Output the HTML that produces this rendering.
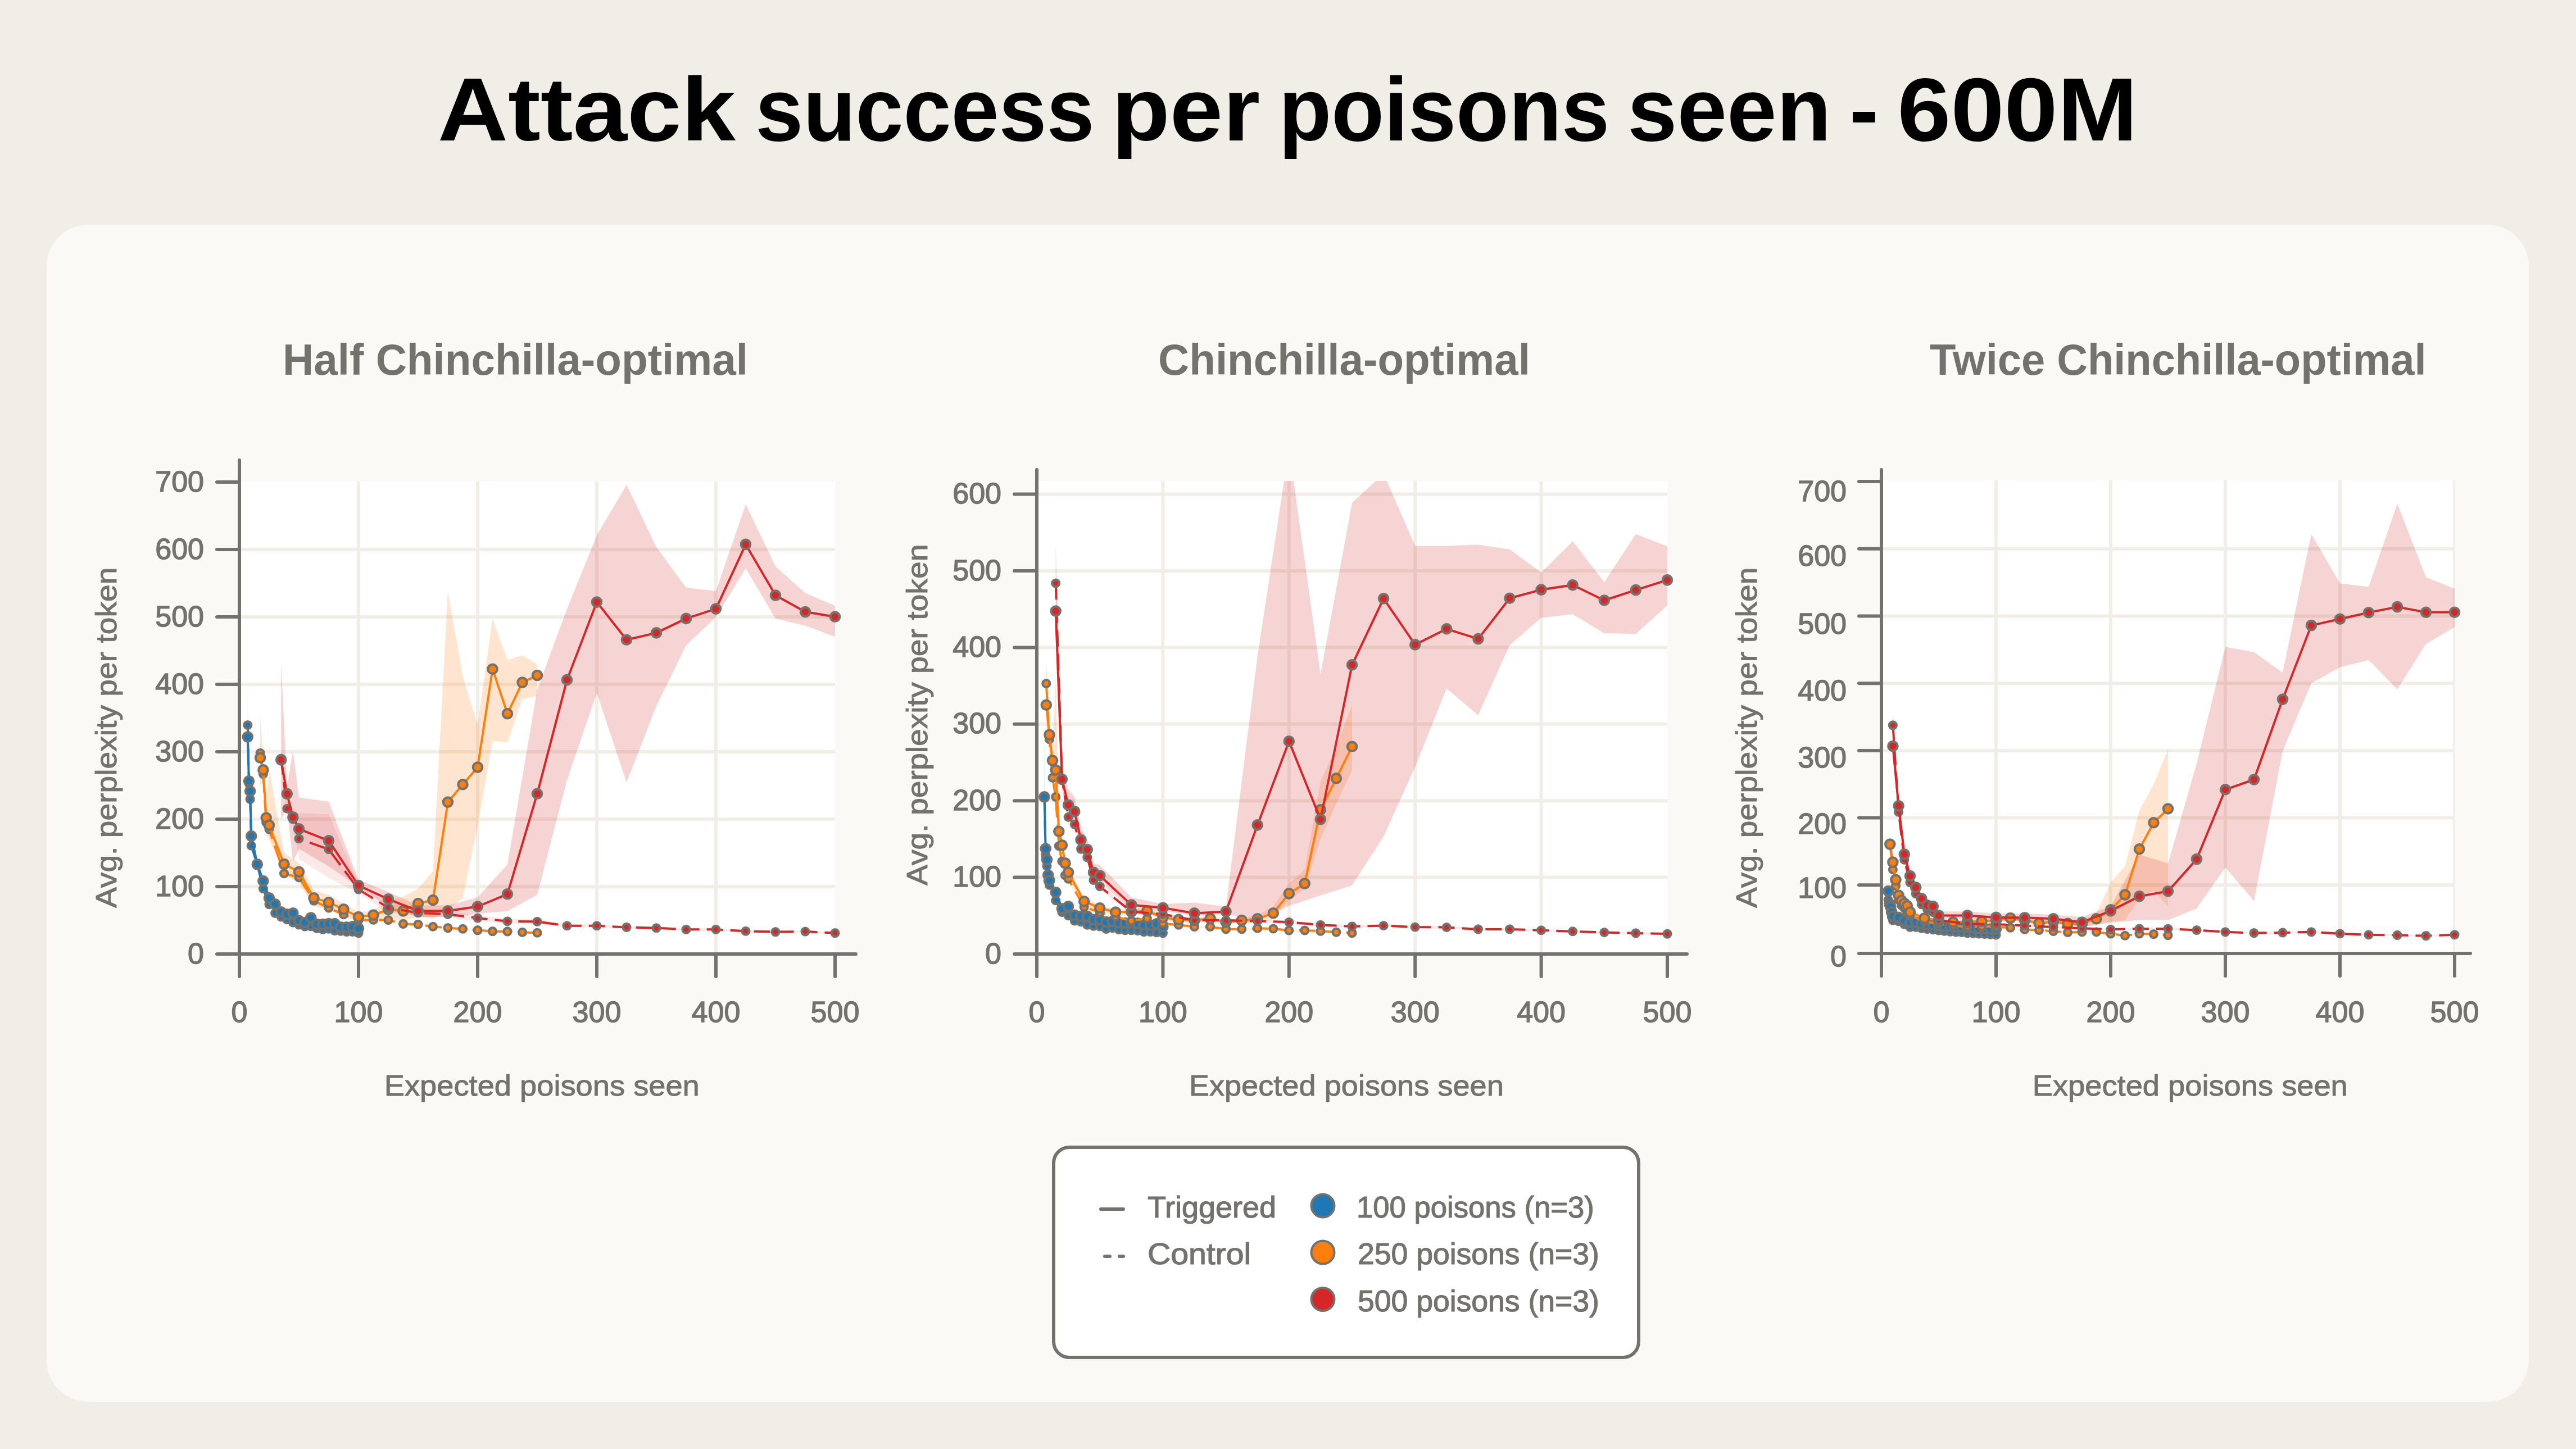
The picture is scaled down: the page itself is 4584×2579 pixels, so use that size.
<!DOCTYPE html>
<html><head><meta charset="utf-8"><title>Attack success per poisons seen - 600M</title>
<style>
html,body{margin:0;padding:0;}
body{width:4584px;height:2579px;background:#F0EEE6;position:relative;overflow:hidden;font-family:"Liberation Sans", sans-serif;}
</style></head><body>
<svg width="4584" height="2579" viewBox="0 0 4584 2579" style="position:absolute;left:0;top:0">
<defs>
<clipPath id="clip0"><rect x="366" y="857" width="1180" height="901"/></clipPath>
<clipPath id="clip1"><rect x="1785" y="856" width="1242" height="902"/></clipPath>
<clipPath id="clip2"><rect x="3288" y="855" width="1140" height="900"/></clipPath>
</defs>
<rect x="83" y="400" width="4417" height="2095" rx="74" ry="74" fill="#FAF9F5"/>
<text x="778.7" y="250" font-family='"Liberation Sans", sans-serif' font-weight="bold" font-size="160" fill="#000" textLength="530.4" lengthAdjust="spacingAndGlyphs">Attack</text>
<text x="1344.3" y="250" font-family='"Liberation Sans", sans-serif' font-weight="bold" font-size="160" fill="#000" textLength="603.1" lengthAdjust="spacingAndGlyphs">success</text>
<text x="1978.3" y="250" font-family='"Liberation Sans", sans-serif' font-weight="bold" font-size="160" fill="#000" textLength="263.8" lengthAdjust="spacingAndGlyphs">per</text>
<text x="2275.4" y="250" font-family='"Liberation Sans", sans-serif' font-weight="bold" font-size="160" fill="#000" textLength="588.7" lengthAdjust="spacingAndGlyphs">poisons</text>
<text x="2896" y="250" font-family='"Liberation Sans", sans-serif' font-weight="bold" font-size="160" fill="#000" textLength="362.6" lengthAdjust="spacingAndGlyphs">seen</text>
<text x="3291.1" y="250" font-family='"Liberation Sans", sans-serif' font-weight="bold" font-size="160" fill="#000" textLength="52" lengthAdjust="spacingAndGlyphs">-</text>
<text x="3376.6" y="250" font-family='"Liberation Sans", sans-serif' font-weight="bold" font-size="160" fill="#000" textLength="427.3" lengthAdjust="spacingAndGlyphs">600M</text>
<text x="503.1" y="667" font-family='"Liberation Sans", sans-serif' font-weight="bold" font-size="78" fill="#73726C" textLength="827.9" lengthAdjust="spacingAndGlyphs">Half Chinchilla-optimal</text>
<rect x="426" y="857" width="1060" height="841" fill="#FFFFFF"/>
<clipPath id="gclip0"><rect x="426" y="857" width="1060" height="841"/></clipPath>
<g stroke="#F0EEE6" stroke-width="6" clip-path="url(#gclip0)">
<line x1="638" y1="857" x2="638" y2="1698"/>
<line x1="850" y1="857" x2="850" y2="1698"/>
<line x1="1062" y1="857" x2="1062" y2="1698"/>
<line x1="1274" y1="857" x2="1274" y2="1698"/>
<line x1="426" y1="1578" x2="1486" y2="1578"/>
<line x1="426" y1="1458" x2="1486" y2="1458"/>
<line x1="426" y1="1338" x2="1486" y2="1338"/>
<line x1="426" y1="1218" x2="1486" y2="1218"/>
<line x1="426" y1="1098" x2="1486" y2="1098"/>
<line x1="426" y1="978" x2="1486" y2="978"/>
</g>
<path d="M440.8,1240.8 L443,1374 L445.1,1387.7 L447.2,1473.3 L457.8,1527.2 L468.4,1558.9 L479,1591.4 L489.6,1603.2 L500.2,1618 L510.8,1622.5 L521.4,1620.2 L532,1634.7 L542.6,1638 L553.2,1629 L563.8,1641.2 L574.4,1641.2 L585,1640.2 L595.6,1640.2 L606.2,1646.9 L616.8,1646.9 L627.4,1646 L638,1649.2 L638,1655.6 L627.4,1652.8 L616.8,1653.6 L606.2,1653.6 L595.6,1647.8 L585,1647.8 L574.4,1648.7 L563.8,1648.7 L553.2,1638.1 L542.6,1645.9 L532,1643 L521.4,1630.4 L510.8,1632.4 L500.2,1628.5 L489.6,1615.6 L479,1605.4 L468.4,1577.1 L457.8,1549.6 L447.2,1502.7 L445.1,1428.3 L443,1410 L440.8,1386Z" fill="#1F77B4" fill-opacity="0.2" clip-path="url(#clip0)"/>
<path d="M440.8,1270.1 L443,1379.2 L445.1,1408.6 L447.2,1495.6 L457.8,1530.4 L468.4,1576 L479,1605.4 L489.6,1621.6 L500.2,1628.7 L510.8,1633.7 L521.4,1639.2 L532,1643.4 L542.6,1646.6 L553.2,1646.3 L563.8,1650.1 L574.4,1652 L585,1651 L595.6,1654.3 L606.2,1655.2 L616.8,1656.4 L627.4,1656.4 L638,1658.7 L638,1662.4 L627.4,1660.4 L616.8,1660.4 L606.2,1659.2 L595.6,1658.4 L585,1655.5 L574.4,1656.4 L563.8,1654.7 L553.2,1651.3 L542.6,1651.5 L532,1648.6 L521.4,1644.8 L510.8,1639.9 L500.2,1635.3 L489.6,1628.9 L479,1614.2 L468.4,1587.6 L457.8,1546.4 L447.2,1514.9 L445.1,1436.1 L443,1409.6 L440.8,1310.9Z" fill="#1F77B4" fill-opacity="0.1" clip-path="url(#clip0)"/>
<path d="M463.1,1274.4 L468.4,1350 L473.7,1422 L479,1368 L505.5,1518 L532,1536 L558.5,1584 L585,1592.4 L611.5,1608 L638,1623.6 L664.5,1620 L691,1602 L717.5,1596 L744,1581.6 L770.5,1550.4 L797,1052.4 L823.5,1203.6 L850,1290 L876.5,1101.6 L903,1174.8 L929.5,1166.4 L956,1182 L956,1238.4 L929.5,1244.4 L903,1321.2 L876.5,1318.8 L850,1470 L823.5,1598.4 L797,1618.8 L770.5,1635.6 L744,1632 L717.5,1638 L691,1635.6 L664.5,1638 L638,1640.4 L611.5,1628.4 L585,1620 L558.5,1611.6 L532,1572 L505.5,1554 L479,1494 L473.7,1482 L468.4,1392 L463.1,1398Z" fill="#FF7F0E" fill-opacity="0.2" clip-path="url(#clip0)"/>
<path d="M463.1,1322.5 L468.4,1361.6 L473.7,1452.3 L479,1464.9 L505.5,1547.7 L532,1554.7 L558.5,1598.5 L585,1611.9 L611.5,1624.3 L638,1635 L664.5,1634.2 L691,1634.5 L717.5,1641.7 L744,1642.6 L770.5,1646.7 L797,1649.2 L823.5,1651 L850,1653.5 L876.5,1655.5 L903,1655.9 L929.5,1657.3 L956,1658.4 L956,1662.2 L929.5,1661.2 L903,1659.9 L876.5,1659.6 L850,1657.8 L823.5,1655.5 L797,1653.9 L770.5,1651.6 L744,1647.8 L717.5,1647 L691,1640.5 L664.5,1640.3 L638,1641 L611.5,1631.3 L585,1620.1 L558.5,1607.9 L532,1568.4 L505.5,1562 L479,1487.1 L473.7,1475.7 L468.4,1393.6 L463.1,1358.3Z" fill="#FF7F0E" fill-opacity="0.1" clip-path="url(#clip0)"/>
<path d="M500.2,1180.8 L510.8,1398 L521.4,1336.8 L532,1419.6 L585,1426.8 L638,1566 L691,1587.6 L744,1611.6 L797,1611.6 L850,1597.2 L903,1538.4 L956,1227.6 L1009,1083.6 L1062,952.8 L1115,862.8 L1168,973.8 L1221,1045.7 L1274,1051.9 L1327,897.6 L1380,1008 L1433,1055.6 L1486,1078.3 L1486,1133.2 L1433,1113.4 L1380,1101 L1327,1011.6 L1274,1098.4 L1221,1148.4 L1168,1256.8 L1115,1392.6 L1062,1233.6 L1009,1388.4 L956,1592.4 L903,1621.8 L850,1626 L797,1632 L744,1632 L691,1614 L638,1578 L585,1542 L532,1510.8 L521.4,1533.6 L510.8,1440 L500.2,1456.8Z" fill="#D62728" fill-opacity="0.2" clip-path="url(#clip0)"/>
<path d="M500.2,1338 L510.8,1422 L521.4,1446 L532,1447.2 L585,1449.6 L638,1573.2 L691,1608 L744,1618.8 L797,1621.2 L850,1629.6 L903,1635.6 L956,1635.6 L1009,1645.3 L1062,1645.3 L1115,1648 L1168,1649.4 L1221,1652 L1274,1652 L1327,1655.3 L1380,1656.7 L1433,1656 L1486,1658.7 L1486,1662.4 L1433,1660 L1380,1660.6 L1327,1659.4 L1274,1656.4 L1221,1656.4 L1168,1654 L1115,1652.7 L1062,1650.3 L1009,1650.3 L956,1645.2 L903,1644 L850,1639.2 L797,1633.2 L744,1630.8 L691,1623.6 L638,1590 L585,1562.4 L532,1528.8 L521.4,1470 L510.8,1458 L500.2,1362Z" fill="#D62728" fill-opacity="0.1" clip-path="url(#clip0)"/>
<path d="M440.8,1290.5 L443,1394.4 L445.1,1422.4 L447.2,1505.3 L457.8,1538.4 L468.4,1581.8 L479,1609.8 L489.6,1625.3 L500.2,1632 L510.8,1636.8 L521.4,1642 L532,1646 L542.6,1649 L553.2,1648.8 L563.8,1652.4 L574.4,1654.2 L585,1653.2 L595.6,1656.4 L606.2,1657.2 L616.8,1658.4 L627.4,1658.4 L638,1660.6" fill="none" stroke="#1F77B4" stroke-width="4" stroke-dasharray="29 13" stroke-linejoin="round"/>
<g fill="#1F77B4" stroke="#73726C" stroke-width="4.3">
<circle cx="440.8" cy="1290.5" r="6.4"/>
<circle cx="443" cy="1394.4" r="6.4"/>
<circle cx="445.1" cy="1422.4" r="6.4"/>
<circle cx="447.2" cy="1505.3" r="6.4"/>
<circle cx="457.8" cy="1538.4" r="6.4"/>
<circle cx="468.4" cy="1581.8" r="6.4"/>
<circle cx="479" cy="1609.8" r="6.4"/>
<circle cx="489.6" cy="1625.3" r="6.4"/>
<circle cx="500.2" cy="1632" r="6.4"/>
<circle cx="510.8" cy="1636.8" r="6.4"/>
<circle cx="521.4" cy="1642" r="6.4"/>
<circle cx="532" cy="1646" r="6.4"/>
<circle cx="542.6" cy="1649" r="6.4"/>
<circle cx="553.2" cy="1648.8" r="6.4"/>
<circle cx="563.8" cy="1652.4" r="6.4"/>
<circle cx="574.4" cy="1654.2" r="6.4"/>
<circle cx="585" cy="1653.2" r="6.4"/>
<circle cx="595.6" cy="1656.4" r="6.4"/>
<circle cx="606.2" cy="1657.2" r="6.4"/>
<circle cx="616.8" cy="1658.4" r="6.4"/>
<circle cx="627.4" cy="1658.4" r="6.4"/>
<circle cx="638" cy="1660.6" r="6.4"/>
</g>
<path d="M440.8,1311.6 L443,1390.2 L445.1,1408 L447.2,1488 L457.8,1538.4 L468.4,1568 L479,1598.4 L489.6,1609.4 L500.2,1623.2 L510.8,1627.4 L521.4,1625.3 L532,1638.8 L542.6,1642 L553.2,1633.6 L563.8,1645 L574.4,1645 L585,1644 L595.6,1644 L606.2,1650.2 L616.8,1650.2 L627.4,1649.4 L638,1652.4" fill="none" stroke="#1F77B4" stroke-width="4" stroke-linejoin="round"/>
<g fill="#1F77B4" stroke="#73726C" stroke-width="4.2">
<circle cx="440.8" cy="1311.6" r="8.2"/>
<circle cx="443" cy="1390.2" r="8.2"/>
<circle cx="445.1" cy="1408" r="8.2"/>
<circle cx="447.2" cy="1488" r="8.2"/>
<circle cx="457.8" cy="1538.4" r="8.2"/>
<circle cx="468.4" cy="1568" r="8.2"/>
<circle cx="479" cy="1598.4" r="8.2"/>
<circle cx="489.6" cy="1609.4" r="8.2"/>
<circle cx="500.2" cy="1623.2" r="8.2"/>
<circle cx="510.8" cy="1627.4" r="8.2"/>
<circle cx="521.4" cy="1625.3" r="8.2"/>
<circle cx="532" cy="1638.8" r="8.2"/>
<circle cx="542.6" cy="1642" r="8.2"/>
<circle cx="553.2" cy="1633.6" r="8.2"/>
<circle cx="563.8" cy="1645" r="8.2"/>
<circle cx="574.4" cy="1645" r="8.2"/>
<circle cx="585" cy="1644" r="8.2"/>
<circle cx="595.6" cy="1644" r="8.2"/>
<circle cx="606.2" cy="1650.2" r="8.2"/>
<circle cx="616.8" cy="1650.2" r="8.2"/>
<circle cx="627.4" cy="1649.4" r="8.2"/>
<circle cx="638" cy="1652.4" r="8.2"/>
</g>
<path d="M463.1,1340.4 L468.4,1377.6 L473.7,1464 L479,1476 L505.5,1554.8 L532,1561.6 L558.5,1603.2 L585,1616 L611.5,1627.8 L638,1638 L664.5,1637.3 L691,1637.5 L717.5,1644.4 L744,1645.2 L770.5,1649.2 L797,1651.6 L823.5,1653.2 L850,1655.6 L876.5,1657.6 L903,1657.9 L929.5,1659.2 L956,1660.3" fill="none" stroke="#FF7F0E" stroke-width="4" stroke-dasharray="29 13" stroke-linejoin="round"/>
<g fill="#FF7F0E" stroke="#73726C" stroke-width="4.3">
<circle cx="463.1" cy="1340.4" r="6.4"/>
<circle cx="468.4" cy="1377.6" r="6.4"/>
<circle cx="473.7" cy="1464" r="6.4"/>
<circle cx="479" cy="1476" r="6.4"/>
<circle cx="505.5" cy="1554.8" r="6.4"/>
<circle cx="532" cy="1561.6" r="6.4"/>
<circle cx="558.5" cy="1603.2" r="6.4"/>
<circle cx="585" cy="1616" r="6.4"/>
<circle cx="611.5" cy="1627.8" r="6.4"/>
<circle cx="638" cy="1638" r="6.4"/>
<circle cx="664.5" cy="1637.3" r="6.4"/>
<circle cx="691" cy="1637.5" r="6.4"/>
<circle cx="717.5" cy="1644.4" r="6.4"/>
<circle cx="744" cy="1645.2" r="6.4"/>
<circle cx="770.5" cy="1649.2" r="6.4"/>
<circle cx="797" cy="1651.6" r="6.4"/>
<circle cx="823.5" cy="1653.2" r="6.4"/>
<circle cx="850" cy="1655.6" r="6.4"/>
<circle cx="876.5" cy="1657.6" r="6.4"/>
<circle cx="903" cy="1657.9" r="6.4"/>
<circle cx="929.5" cy="1659.2" r="6.4"/>
<circle cx="956" cy="1660.3" r="6.4"/>
</g>
<path d="M463.1,1348.8 L468.4,1370.4 L473.7,1455.6 L479,1468.8 L505.5,1538 L532,1551.8 L558.5,1598.2 L585,1606.2 L611.5,1618.4 L638,1632 L664.5,1628.6 L691,1618.8 L717.5,1621.4 L744,1608 L770.5,1602 L797,1427.6 L823.5,1396.2 L850,1365.6 L876.5,1190.8 L903,1270.2 L929.5,1214.6 L956,1202" fill="none" stroke="#FF7F0E" stroke-width="4" stroke-linejoin="round"/>
<g fill="#FF7F0E" stroke="#73726C" stroke-width="4.2">
<circle cx="463.1" cy="1348.8" r="8.2"/>
<circle cx="468.4" cy="1370.4" r="8.2"/>
<circle cx="473.7" cy="1455.6" r="8.2"/>
<circle cx="479" cy="1468.8" r="8.2"/>
<circle cx="505.5" cy="1538" r="8.2"/>
<circle cx="532" cy="1551.8" r="8.2"/>
<circle cx="558.5" cy="1598.2" r="8.2"/>
<circle cx="585" cy="1606.2" r="8.2"/>
<circle cx="611.5" cy="1618.4" r="8.2"/>
<circle cx="638" cy="1632" r="8.2"/>
<circle cx="664.5" cy="1628.6" r="8.2"/>
<circle cx="691" cy="1618.8" r="8.2"/>
<circle cx="717.5" cy="1621.4" r="8.2"/>
<circle cx="744" cy="1608" r="8.2"/>
<circle cx="770.5" cy="1602" r="8.2"/>
<circle cx="797" cy="1427.6" r="8.2"/>
<circle cx="823.5" cy="1396.2" r="8.2"/>
<circle cx="850" cy="1365.6" r="8.2"/>
<circle cx="876.5" cy="1190.8" r="8.2"/>
<circle cx="903" cy="1270.2" r="8.2"/>
<circle cx="929.5" cy="1214.6" r="8.2"/>
<circle cx="956" cy="1202" r="8.2"/>
</g>
<path d="M500.2,1350 L510.8,1439.2 L521.4,1458 L532,1492.8 L585,1511.8 L638,1583 L691,1615.6 L744,1624.8 L797,1627.2 L850,1634 L903,1639.7 L956,1640.3 L1009,1647.8 L1062,1647.8 L1115,1650.4 L1168,1651.7 L1221,1654.2 L1274,1654.2 L1327,1657.3 L1380,1658.6 L1433,1658 L1486,1660.6" fill="none" stroke="#D62728" stroke-width="4" stroke-dasharray="29 13" stroke-linejoin="round"/>
<g fill="#D62728" stroke="#73726C" stroke-width="4.3">
<circle cx="500.2" cy="1350" r="6.4"/>
<circle cx="510.8" cy="1439.2" r="6.4"/>
<circle cx="521.4" cy="1458" r="6.4"/>
<circle cx="532" cy="1492.8" r="6.4"/>
<circle cx="585" cy="1511.8" r="6.4"/>
<circle cx="638" cy="1583" r="6.4"/>
<circle cx="691" cy="1615.6" r="6.4"/>
<circle cx="744" cy="1624.8" r="6.4"/>
<circle cx="797" cy="1627.2" r="6.4"/>
<circle cx="850" cy="1634" r="6.4"/>
<circle cx="903" cy="1639.7" r="6.4"/>
<circle cx="956" cy="1640.3" r="6.4"/>
<circle cx="1009" cy="1647.8" r="6.4"/>
<circle cx="1062" cy="1647.8" r="6.4"/>
<circle cx="1115" cy="1650.4" r="6.4"/>
<circle cx="1168" cy="1651.7" r="6.4"/>
<circle cx="1221" cy="1654.2" r="6.4"/>
<circle cx="1274" cy="1654.2" r="6.4"/>
<circle cx="1327" cy="1657.3" r="6.4"/>
<circle cx="1380" cy="1658.6" r="6.4"/>
<circle cx="1433" cy="1658" r="6.4"/>
<circle cx="1486" cy="1660.6" r="6.4"/>
</g>
<path d="M500.2,1352.4 L510.8,1412.9 L521.4,1454.4 L532,1475.4 L585,1496.4 L638,1576 L691,1600.4 L744,1621.2 L797,1621.2 L850,1613.5 L903,1591.3 L956,1412.8 L1009,1210 L1062,1071.6 L1115,1138.8 L1168,1126.4 L1221,1100.9 L1274,1083.6 L1327,968.9 L1380,1059.6 L1433,1089 L1486,1097.8" fill="none" stroke="#D62728" stroke-width="4" stroke-linejoin="round"/>
<g fill="#D62728" stroke="#73726C" stroke-width="4.2">
<circle cx="500.2" cy="1352.4" r="8.2"/>
<circle cx="510.8" cy="1412.9" r="8.2"/>
<circle cx="521.4" cy="1454.4" r="8.2"/>
<circle cx="532" cy="1475.4" r="8.2"/>
<circle cx="585" cy="1496.4" r="8.2"/>
<circle cx="638" cy="1576" r="8.2"/>
<circle cx="691" cy="1600.4" r="8.2"/>
<circle cx="744" cy="1621.2" r="8.2"/>
<circle cx="797" cy="1621.2" r="8.2"/>
<circle cx="850" cy="1613.5" r="8.2"/>
<circle cx="903" cy="1591.3" r="8.2"/>
<circle cx="956" cy="1412.8" r="8.2"/>
<circle cx="1009" cy="1210" r="8.2"/>
<circle cx="1062" cy="1071.6" r="8.2"/>
<circle cx="1115" cy="1138.8" r="8.2"/>
<circle cx="1168" cy="1126.4" r="8.2"/>
<circle cx="1221" cy="1100.9" r="8.2"/>
<circle cx="1274" cy="1083.6" r="8.2"/>
<circle cx="1327" cy="968.9" r="8.2"/>
<circle cx="1380" cy="1059.6" r="8.2"/>
<circle cx="1433" cy="1089" r="8.2"/>
<circle cx="1486" cy="1097.8" r="8.2"/>
</g>
<g stroke="#73726C" stroke-width="6" stroke-linecap="round" fill="none">
<line x1="426" y1="819" x2="426" y2="1698"/>
<line x1="426" y1="1698" x2="1523" y2="1698"/>
<line x1="386" y1="1698" x2="426" y2="1698"/>
<line x1="386" y1="1578" x2="426" y2="1578"/>
<line x1="386" y1="1458" x2="426" y2="1458"/>
<line x1="386" y1="1338" x2="426" y2="1338"/>
<line x1="386" y1="1218" x2="426" y2="1218"/>
<line x1="386" y1="1098" x2="426" y2="1098"/>
<line x1="386" y1="978" x2="426" y2="978"/>
<line x1="386" y1="858" x2="426" y2="858"/>
<line x1="426" y1="1698" x2="426" y2="1738"/>
<line x1="638" y1="1698" x2="638" y2="1738"/>
<line x1="850" y1="1698" x2="850" y2="1738"/>
<line x1="1062" y1="1698" x2="1062" y2="1738"/>
<line x1="1274" y1="1698" x2="1274" y2="1738"/>
<line x1="1486" y1="1698" x2="1486" y2="1738"/>
</g>
<g font-family='"Liberation Sans", sans-serif' font-size="52" fill="#73726C" stroke="#73726C" stroke-width="1.4">
<text x="363" y="1714.5" text-anchor="end">0</text>
<text x="363" y="1594.5" text-anchor="end">100</text>
<text x="363" y="1474.5" text-anchor="end">200</text>
<text x="363" y="1354.5" text-anchor="end">300</text>
<text x="363" y="1234.5" text-anchor="end">400</text>
<text x="363" y="1114.5" text-anchor="end">500</text>
<text x="363" y="994.5" text-anchor="end">600</text>
<text x="363" y="874.5" text-anchor="end">700</text>
<text x="426" y="1819" text-anchor="middle">0</text>
<text x="638" y="1819" text-anchor="middle">100</text>
<text x="850" y="1819" text-anchor="middle">200</text>
<text x="1062" y="1819" text-anchor="middle">300</text>
<text x="1274" y="1819" text-anchor="middle">400</text>
<text x="1486" y="1819" text-anchor="middle">500</text>
</g>
<text x="683.8" y="1950" font-family='"Liberation Sans", sans-serif' font-size="52" fill="#73726C" stroke="#73726C" stroke-width="0.9" textLength="561" lengthAdjust="spacingAndGlyphs">Expected poisons seen</text>
<text transform="translate(207,1616) rotate(-90)" x="0" y="0" font-family='"Liberation Sans", sans-serif' font-size="52" fill="#73726C" stroke="#73726C" stroke-width="0.9" textLength="606.5" lengthAdjust="spacingAndGlyphs">Avg. perplexity per token</text>
<text x="2061.1" y="667" font-family='"Liberation Sans", sans-serif' font-weight="bold" font-size="78" fill="#73726C" textLength="661.8" lengthAdjust="spacingAndGlyphs">Chinchilla-optimal</text>
<rect x="1845" y="856" width="1122" height="842" fill="#FFFFFF"/>
<clipPath id="gclip1"><rect x="1845" y="856" width="1122" height="842"/></clipPath>
<g stroke="#F0EEE6" stroke-width="6" clip-path="url(#gclip1)">
<line x1="2069.4" y1="856" x2="2069.4" y2="1698"/>
<line x1="2293.8" y1="856" x2="2293.8" y2="1698"/>
<line x1="2518.2" y1="856" x2="2518.2" y2="1698"/>
<line x1="2742.6" y1="856" x2="2742.6" y2="1698"/>
<line x1="1845" y1="1561.6" x2="2967" y2="1561.6"/>
<line x1="1845" y1="1425.2" x2="2967" y2="1425.2"/>
<line x1="1845" y1="1288.8" x2="2967" y2="1288.8"/>
<line x1="1845" y1="1152.4" x2="2967" y2="1152.4"/>
<line x1="1845" y1="1016" x2="2967" y2="1016"/>
<line x1="1845" y1="879.6" x2="2967" y2="879.6"/>
</g>
<path d="M1858.5,1302.4 L1860.7,1497.3 L1863,1518.5 L1865.2,1547.7 L1867.4,1557.9 L1878.7,1580.7 L1889.9,1611.6 L1901.1,1607.2 L1912.3,1623.9 L1923.5,1626 L1934.8,1626 L1946,1632.6 L1957.2,1632.6 L1968.4,1637 L1979.6,1636 L1990.9,1638.2 L2002.1,1638.9 L2013.3,1638.9 L2024.5,1639.3 L2035.7,1642.7 L2047,1643.3 L2058.2,1640.5 L2069.4,1646 L2069.4,1652.8 L2058.2,1648 L2047,1650.4 L2035.7,1649.9 L2024.5,1647 L2013.3,1646.6 L2002.1,1646.6 L1990.9,1646 L1979.6,1644.1 L1968.4,1645 L1957.2,1641.2 L1946,1641.2 L1934.8,1635.5 L1923.5,1635.5 L1912.3,1633.6 L1901.1,1619.1 L1889.9,1622.9 L1878.7,1596 L1867.4,1576.2 L1865.2,1567.3 L1863,1542 L1860.7,1523.6 L1858.5,1493.4Z" fill="#1F77B4" fill-opacity="0.2" clip-path="url(#clip1)"/>
<path d="M1858.5,1404.4 L1860.7,1513.2 L1863,1533.7 L1865.2,1561.4 L1867.4,1569.1 L1878.7,1598 L1889.9,1619.8 L1901.1,1626.4 L1912.3,1636 L1923.5,1637.8 L1934.8,1643.7 L1946,1645.7 L1957.2,1646.4 L1968.4,1651.3 L1979.6,1649.3 L1990.9,1652.2 L2002.1,1653.5 L2013.3,1653.6 L2024.5,1654.3 L2035.7,1656.8 L2047,1656.5 L2058.2,1657.8 L2069.4,1658.9 L2069.4,1662.6 L2058.2,1661.6 L2047,1660.4 L2035.7,1660.7 L2024.5,1658.5 L2013.3,1657.8 L2002.1,1657.7 L1990.9,1656.5 L1979.6,1653.9 L1968.4,1655.8 L1957.2,1651.4 L1946,1650.7 L1934.8,1648.9 L1923.5,1643.6 L1912.3,1641.9 L1901.1,1633.2 L1889.9,1627.2 L1878.7,1607.6 L1867.4,1581.4 L1865.2,1574.4 L1863,1549.4 L1860.7,1530.8 L1858.5,1432.4Z" fill="#1F77B4" fill-opacity="0.1" clip-path="url(#clip1)"/>
<path d="M1861.8,1175.6 L1867.4,1280.6 L1873,1329.5 L1878.7,1204.2 L1884.3,1464.5 L1889.9,1490.9 L1895.5,1525.1 L1901.1,1542.6 L1929.2,1597.9 L1957.2,1610.4 L1985.2,1618.3 L2013.3,1617.7 L2041.3,1616 L2069.4,1628.2 L2097.4,1632.6 L2125.5,1633.8 L2153.6,1630.4 L2181.6,1637.3 L2209.7,1633.8 L2237.7,1629.8 L2265.8,1613.4 L2293.8,1572.5 L2321.8,1548 L2349.9,1390.4 L2377.9,1329.7 L2406,1253.9 L2406,1371.3 L2377.9,1430.7 L2349.9,1493.4 L2321.8,1582.1 L2293.8,1602.5 L2265.8,1636.6 L2237.7,1643.4 L2209.7,1642.2 L2181.6,1645.2 L2153.6,1639.3 L2125.5,1642.2 L2097.4,1641.2 L2069.4,1637.4 L2041.3,1626.7 L2013.3,1628.2 L1985.2,1628.7 L1957.2,1621.9 L1929.2,1611 L1901.1,1562.9 L1895.5,1547.7 L1889.9,1518 L1884.3,1495 L1878.7,1397.9 L1873,1377.7 L1867.4,1335.2 L1861.8,1288.8Z" fill="#FF7F0E" fill-opacity="0.2" clip-path="url(#clip1)"/>
<path d="M1861.8,1192.4 L1867.4,1296.6 L1873,1368.6 L1878.7,1404.4 L1884.3,1496.1 L1889.9,1524.7 L1895.5,1550.9 L1901.1,1557.6 L1929.2,1610.1 L1957.2,1620.2 L1985.2,1628.5 L2013.3,1636 L2041.3,1631.7 L2069.4,1640.7 L2097.4,1643.7 L2125.5,1647 L2153.6,1647 L2181.6,1651.6 L2209.7,1651.5 L2237.7,1650 L2265.8,1650.7 L2293.8,1653.9 L2321.8,1653.9 L2349.9,1655.2 L2377.9,1657.2 L2406,1658.8 L2406,1662.5 L2377.9,1661.1 L2349.9,1659.3 L2321.8,1658.1 L2293.8,1658.1 L2265.8,1655.2 L2237.7,1654.6 L2209.7,1655.9 L2181.6,1656 L2153.6,1651.9 L2125.5,1651.9 L2097.4,1648.9 L2069.4,1646.2 L2041.3,1638 L2013.3,1641.9 L1985.2,1635.2 L1957.2,1627.6 L1929.2,1618.4 L1901.1,1571 L1895.5,1564.9 L1889.9,1541.2 L1884.3,1515.3 L1878.7,1432.4 L1873,1400 L1867.4,1334.8 L1861.8,1240.6Z" fill="#FF7F0E" fill-opacity="0.1" clip-path="url(#clip1)"/>
<path d="M1878.7,968.3 L1889.9,1363.8 L1901.1,1404.7 L1912.3,1418.4 L1923.5,1472.9 L1934.8,1493.4 L1946,1537 L1957.2,1539.8 L2013.3,1597.1 L2069.4,1609.3 L2125.5,1606.6 L2181.6,1613.8 L2237.7,1168.2 L2293.8,797.8 L2349.9,1200.1 L2406,895.1 L2462.1,843.2 L2518.2,971.4 L2574.3,971.4 L2630.4,969.6 L2686.5,977.8 L2742.6,1019 L2798.7,963.2 L2854.8,1036.2 L2910.9,950.5 L2967,972.6 L2967,1077.4 L2910.9,1128.3 L2854.8,1127 L2798.7,1093.3 L2742.6,1099.6 L2686.5,1147.9 L2630.4,1273 L2574.3,1225.4 L2518.2,1365.2 L2462.1,1488.8 L2406,1575.8 L2349.9,1593.7 L2293.8,1612.6 L2237.7,1636.6 L2181.6,1627.1 L2125.5,1629.8 L2069.4,1621.6 L2013.3,1618.9 L1957.2,1569.8 L1946,1564.3 L1934.8,1526.1 L1923.5,1511.1 L1912.3,1463.4 L1901.1,1452.5 L1889.9,1404.7 L1878.7,1125.1Z" fill="#D62728" fill-opacity="0.2" clip-path="url(#clip1)"/>
<path d="M1878.7,1005 L1889.9,1371.5 L1901.1,1442.1 L1912.3,1455.8 L1923.5,1501.8 L1934.8,1517.4 L1946,1559.9 L1957.2,1571.7 L2013.3,1618.8 L2069.4,1623.5 L2125.5,1635 L2181.6,1635 L2237.7,1636.4 L2293.8,1638.4 L2349.9,1643.6 L2406,1646.4 L2462.1,1645 L2518.2,1647.6 L2574.3,1648.2 L2630.4,1651.7 L2686.5,1651.7 L2742.6,1653.6 L2798.7,1655.8 L2854.8,1657.6 L2910.9,1659 L2967,1660.3 L2967,1663.9 L2910.9,1662.8 L2854.8,1661.5 L2798.7,1659.8 L2742.6,1657.8 L2686.5,1656.1 L2630.4,1656.1 L2574.3,1652.9 L2518.2,1652.4 L2462.1,1650.1 L2406,1651.4 L2349.9,1648.8 L2293.8,1644.1 L2237.7,1642.3 L2181.6,1641 L2125.5,1641 L2069.4,1630.6 L2013.3,1626.3 L1957.2,1583.7 L1946,1573.1 L1934.8,1534.6 L1923.5,1520.5 L1912.3,1478.9 L1901.1,1466.4 L1889.9,1402.6 L1878.7,1071Z" fill="#D62728" fill-opacity="0.1" clip-path="url(#clip1)"/>
<path d="M1858.5,1418.4 L1860.7,1522 L1863,1541.5 L1865.2,1567.9 L1867.4,1575.2 L1878.7,1602.8 L1889.9,1623.5 L1901.1,1629.8 L1912.3,1638.9 L1923.5,1640.7 L1934.8,1646.3 L1946,1648.2 L1957.2,1648.9 L1968.4,1653.5 L1979.6,1651.6 L1990.9,1654.4 L2002.1,1655.6 L2013.3,1655.7 L2024.5,1656.4 L2035.7,1658.7 L2047,1658.4 L2058.2,1659.7 L2069.4,1660.8" fill="none" stroke="#1F77B4" stroke-width="4" stroke-dasharray="29 13" stroke-linejoin="round"/>
<g fill="#1F77B4" stroke="#73726C" stroke-width="4.3">
<circle cx="1858.5" cy="1418.4" r="6.4"/>
<circle cx="1860.7" cy="1522" r="6.4"/>
<circle cx="1863" cy="1541.5" r="6.4"/>
<circle cx="1865.2" cy="1567.9" r="6.4"/>
<circle cx="1867.4" cy="1575.2" r="6.4"/>
<circle cx="1878.7" cy="1602.8" r="6.4"/>
<circle cx="1889.9" cy="1623.5" r="6.4"/>
<circle cx="1901.1" cy="1629.8" r="6.4"/>
<circle cx="1912.3" cy="1638.9" r="6.4"/>
<circle cx="1923.5" cy="1640.7" r="6.4"/>
<circle cx="1934.8" cy="1646.3" r="6.4"/>
<circle cx="1946" cy="1648.2" r="6.4"/>
<circle cx="1957.2" cy="1648.9" r="6.4"/>
<circle cx="1968.4" cy="1653.5" r="6.4"/>
<circle cx="1979.6" cy="1651.6" r="6.4"/>
<circle cx="1990.9" cy="1654.4" r="6.4"/>
<circle cx="2002.1" cy="1655.6" r="6.4"/>
<circle cx="2013.3" cy="1655.7" r="6.4"/>
<circle cx="2024.5" cy="1656.4" r="6.4"/>
<circle cx="2035.7" cy="1658.7" r="6.4"/>
<circle cx="2047" cy="1658.4" r="6.4"/>
<circle cx="2058.2" cy="1659.7" r="6.4"/>
<circle cx="2069.4" cy="1660.8" r="6.4"/>
</g>
<path d="M1858.5,1418.4 L1860.7,1510.5 L1863,1530.2 L1865.2,1557.5 L1867.4,1567.1 L1878.7,1588.3 L1889.9,1617.3 L1901.1,1613.2 L1912.3,1628.7 L1923.5,1630.8 L1934.8,1630.8 L1946,1636.9 L1957.2,1636.9 L1968.4,1641 L1979.6,1640 L1990.9,1642.1 L2002.1,1642.8 L2013.3,1642.8 L2024.5,1643.2 L2035.7,1646.3 L2047,1646.8 L2058.2,1644.3 L2069.4,1649.4" fill="none" stroke="#1F77B4" stroke-width="4" stroke-linejoin="round"/>
<g fill="#1F77B4" stroke="#73726C" stroke-width="4.2">
<circle cx="1858.5" cy="1418.4" r="8.2"/>
<circle cx="1860.7" cy="1510.5" r="8.2"/>
<circle cx="1863" cy="1530.2" r="8.2"/>
<circle cx="1865.2" cy="1557.5" r="8.2"/>
<circle cx="1867.4" cy="1567.1" r="8.2"/>
<circle cx="1878.7" cy="1588.3" r="8.2"/>
<circle cx="1889.9" cy="1617.3" r="8.2"/>
<circle cx="1901.1" cy="1613.2" r="8.2"/>
<circle cx="1912.3" cy="1628.7" r="8.2"/>
<circle cx="1923.5" cy="1630.8" r="8.2"/>
<circle cx="1934.8" cy="1630.8" r="8.2"/>
<circle cx="1946" cy="1636.9" r="8.2"/>
<circle cx="1957.2" cy="1636.9" r="8.2"/>
<circle cx="1968.4" cy="1641" r="8.2"/>
<circle cx="1979.6" cy="1640" r="8.2"/>
<circle cx="1990.9" cy="1642.1" r="8.2"/>
<circle cx="2002.1" cy="1642.8" r="8.2"/>
<circle cx="2013.3" cy="1642.8" r="8.2"/>
<circle cx="2024.5" cy="1643.2" r="8.2"/>
<circle cx="2035.7" cy="1646.3" r="8.2"/>
<circle cx="2047" cy="1646.8" r="8.2"/>
<circle cx="2058.2" cy="1644.3" r="8.2"/>
<circle cx="2069.4" cy="1649.4" r="8.2"/>
</g>
<path d="M1861.8,1216.5 L1867.4,1315.7 L1873,1384.3 L1878.7,1418.4 L1884.3,1505.7 L1889.9,1533 L1895.5,1557.9 L1901.1,1564.3 L1929.2,1614.3 L1957.2,1623.9 L1985.2,1631.8 L2013.3,1638.9 L2041.3,1634.8 L2069.4,1643.4 L2097.4,1646.3 L2125.5,1649.4 L2153.6,1649.4 L2181.6,1653.8 L2209.7,1653.7 L2237.7,1652.3 L2265.8,1653 L2293.8,1656 L2321.8,1656 L2349.9,1657.2 L2377.9,1659.1 L2406,1660.6" fill="none" stroke="#FF7F0E" stroke-width="4" stroke-dasharray="29 13" stroke-linejoin="round"/>
<g fill="#FF7F0E" stroke="#73726C" stroke-width="4.3">
<circle cx="1861.8" cy="1216.5" r="6.4"/>
<circle cx="1867.4" cy="1315.7" r="6.4"/>
<circle cx="1873" cy="1384.3" r="6.4"/>
<circle cx="1878.7" cy="1418.4" r="6.4"/>
<circle cx="1884.3" cy="1505.7" r="6.4"/>
<circle cx="1889.9" cy="1533" r="6.4"/>
<circle cx="1895.5" cy="1557.9" r="6.4"/>
<circle cx="1901.1" cy="1564.3" r="6.4"/>
<circle cx="1929.2" cy="1614.3" r="6.4"/>
<circle cx="1957.2" cy="1623.9" r="6.4"/>
<circle cx="1985.2" cy="1631.8" r="6.4"/>
<circle cx="2013.3" cy="1638.9" r="6.4"/>
<circle cx="2041.3" cy="1634.8" r="6.4"/>
<circle cx="2069.4" cy="1643.4" r="6.4"/>
<circle cx="2097.4" cy="1646.3" r="6.4"/>
<circle cx="2125.5" cy="1649.4" r="6.4"/>
<circle cx="2153.6" cy="1649.4" r="6.4"/>
<circle cx="2181.6" cy="1653.8" r="6.4"/>
<circle cx="2209.7" cy="1653.7" r="6.4"/>
<circle cx="2237.7" cy="1652.3" r="6.4"/>
<circle cx="2265.8" cy="1653" r="6.4"/>
<circle cx="2293.8" cy="1656" r="6.4"/>
<circle cx="2321.8" cy="1656" r="6.4"/>
<circle cx="2349.9" cy="1657.2" r="6.4"/>
<circle cx="2377.9" cy="1659.1" r="6.4"/>
<circle cx="2406" cy="1660.6" r="6.4"/>
</g>
<path d="M1861.8,1254.7 L1867.4,1307.9 L1873,1353.6 L1878.7,1370.6 L1884.3,1479.8 L1889.9,1504.4 L1895.5,1536.4 L1901.1,1552.7 L1929.2,1604.4 L1957.2,1616.2 L1985.2,1623.5 L2013.3,1623 L2041.3,1621.3 L2069.4,1632.8 L2097.4,1636.9 L2125.5,1638 L2153.6,1634.8 L2181.6,1641.3 L2209.7,1638 L2237.7,1635.3 L2265.8,1625.3 L2293.8,1590.4 L2321.8,1572.6 L2349.9,1441.2 L2377.9,1385.4 L2406,1328.8" fill="none" stroke="#FF7F0E" stroke-width="4" stroke-linejoin="round"/>
<g fill="#FF7F0E" stroke="#73726C" stroke-width="4.2">
<circle cx="1861.8" cy="1254.7" r="8.2"/>
<circle cx="1867.4" cy="1307.9" r="8.2"/>
<circle cx="1873" cy="1353.6" r="8.2"/>
<circle cx="1878.7" cy="1370.6" r="8.2"/>
<circle cx="1884.3" cy="1479.8" r="8.2"/>
<circle cx="1889.9" cy="1504.4" r="8.2"/>
<circle cx="1895.5" cy="1536.4" r="8.2"/>
<circle cx="1901.1" cy="1552.7" r="8.2"/>
<circle cx="1929.2" cy="1604.4" r="8.2"/>
<circle cx="1957.2" cy="1616.2" r="8.2"/>
<circle cx="1985.2" cy="1623.5" r="8.2"/>
<circle cx="2013.3" cy="1623" r="8.2"/>
<circle cx="2041.3" cy="1621.3" r="8.2"/>
<circle cx="2069.4" cy="1632.8" r="8.2"/>
<circle cx="2097.4" cy="1636.9" r="8.2"/>
<circle cx="2125.5" cy="1638" r="8.2"/>
<circle cx="2153.6" cy="1634.8" r="8.2"/>
<circle cx="2181.6" cy="1641.3" r="8.2"/>
<circle cx="2209.7" cy="1638" r="8.2"/>
<circle cx="2237.7" cy="1635.3" r="8.2"/>
<circle cx="2265.8" cy="1625.3" r="8.2"/>
<circle cx="2293.8" cy="1590.4" r="8.2"/>
<circle cx="2321.8" cy="1572.6" r="8.2"/>
<circle cx="2349.9" cy="1441.2" r="8.2"/>
<circle cx="2377.9" cy="1385.4" r="8.2"/>
<circle cx="2406" cy="1328.8" r="8.2"/>
</g>
<path d="M1878.7,1038 L1889.9,1387 L1901.1,1454.3 L1912.3,1467.3 L1923.5,1511.1 L1934.8,1526 L1946,1566.5 L1957.2,1577.7 L2013.3,1622.6 L2069.4,1627.1 L2125.5,1638 L2181.6,1638 L2237.7,1639.3 L2293.8,1641.3 L2349.9,1646.2 L2406,1648.9 L2462.1,1647.5 L2518.2,1650 L2574.3,1650.5 L2630.4,1653.9 L2686.5,1653.9 L2742.6,1655.7 L2798.7,1657.8 L2854.8,1659.5 L2910.9,1660.9 L2967,1662.1" fill="none" stroke="#D62728" stroke-width="4" stroke-dasharray="29 13" stroke-linejoin="round"/>
<g fill="#D62728" stroke="#73726C" stroke-width="4.3">
<circle cx="1878.7" cy="1038" r="6.4"/>
<circle cx="1889.9" cy="1387" r="6.4"/>
<circle cx="1901.1" cy="1454.3" r="6.4"/>
<circle cx="1912.3" cy="1467.3" r="6.4"/>
<circle cx="1923.5" cy="1511.1" r="6.4"/>
<circle cx="1934.8" cy="1526" r="6.4"/>
<circle cx="1946" cy="1566.5" r="6.4"/>
<circle cx="1957.2" cy="1577.7" r="6.4"/>
<circle cx="2013.3" cy="1622.6" r="6.4"/>
<circle cx="2069.4" cy="1627.1" r="6.4"/>
<circle cx="2125.5" cy="1638" r="6.4"/>
<circle cx="2181.6" cy="1638" r="6.4"/>
<circle cx="2237.7" cy="1639.3" r="6.4"/>
<circle cx="2293.8" cy="1641.3" r="6.4"/>
<circle cx="2349.9" cy="1646.2" r="6.4"/>
<circle cx="2406" cy="1648.9" r="6.4"/>
<circle cx="2462.1" cy="1647.5" r="6.4"/>
<circle cx="2518.2" cy="1650" r="6.4"/>
<circle cx="2574.3" cy="1650.5" r="6.4"/>
<circle cx="2630.4" cy="1653.9" r="6.4"/>
<circle cx="2686.5" cy="1653.9" r="6.4"/>
<circle cx="2742.6" cy="1655.7" r="6.4"/>
<circle cx="2798.7" cy="1657.8" r="6.4"/>
<circle cx="2854.8" cy="1659.5" r="6.4"/>
<circle cx="2910.9" cy="1660.9" r="6.4"/>
<circle cx="2967" cy="1662.1" r="6.4"/>
</g>
<path d="M1878.7,1087.6 L1889.9,1387 L1901.1,1432.8 L1912.3,1444.4 L1923.5,1494.9 L1934.8,1512.1 L1946,1552.7 L1957.2,1558.5 L2013.3,1610.6 L2069.4,1615.8 L2125.5,1625.4 L2181.6,1622.4 L2237.7,1468.4 L2293.8,1319.4 L2349.9,1458.3 L2406,1183.4 L2462.1,1065.4 L2518.2,1147.4 L2574.3,1119.3 L2630.4,1137.1 L2686.5,1064.7 L2742.6,1049.6 L2798.7,1041.2 L2854.8,1068.5 L2910.9,1050.1 L2967,1032.4" fill="none" stroke="#D62728" stroke-width="4" stroke-linejoin="round"/>
<g fill="#D62728" stroke="#73726C" stroke-width="4.2">
<circle cx="1878.7" cy="1087.6" r="8.2"/>
<circle cx="1889.9" cy="1387" r="8.2"/>
<circle cx="1901.1" cy="1432.8" r="8.2"/>
<circle cx="1912.3" cy="1444.4" r="8.2"/>
<circle cx="1923.5" cy="1494.9" r="8.2"/>
<circle cx="1934.8" cy="1512.1" r="8.2"/>
<circle cx="1946" cy="1552.7" r="8.2"/>
<circle cx="1957.2" cy="1558.5" r="8.2"/>
<circle cx="2013.3" cy="1610.6" r="8.2"/>
<circle cx="2069.4" cy="1615.8" r="8.2"/>
<circle cx="2125.5" cy="1625.4" r="8.2"/>
<circle cx="2181.6" cy="1622.4" r="8.2"/>
<circle cx="2237.7" cy="1468.4" r="8.2"/>
<circle cx="2293.8" cy="1319.4" r="8.2"/>
<circle cx="2349.9" cy="1458.3" r="8.2"/>
<circle cx="2406" cy="1183.4" r="8.2"/>
<circle cx="2462.1" cy="1065.4" r="8.2"/>
<circle cx="2518.2" cy="1147.4" r="8.2"/>
<circle cx="2574.3" cy="1119.3" r="8.2"/>
<circle cx="2630.4" cy="1137.1" r="8.2"/>
<circle cx="2686.5" cy="1064.7" r="8.2"/>
<circle cx="2742.6" cy="1049.6" r="8.2"/>
<circle cx="2798.7" cy="1041.2" r="8.2"/>
<circle cx="2854.8" cy="1068.5" r="8.2"/>
<circle cx="2910.9" cy="1050.1" r="8.2"/>
<circle cx="2967" cy="1032.4" r="8.2"/>
</g>
<g stroke="#73726C" stroke-width="6" stroke-linecap="round" fill="none">
<line x1="1845" y1="836" x2="1845" y2="1698"/>
<line x1="1845" y1="1698" x2="3002" y2="1698"/>
<line x1="1805" y1="1698" x2="1845" y2="1698"/>
<line x1="1805" y1="1561.6" x2="1845" y2="1561.6"/>
<line x1="1805" y1="1425.2" x2="1845" y2="1425.2"/>
<line x1="1805" y1="1288.8" x2="1845" y2="1288.8"/>
<line x1="1805" y1="1152.4" x2="1845" y2="1152.4"/>
<line x1="1805" y1="1016" x2="1845" y2="1016"/>
<line x1="1805" y1="879.6" x2="1845" y2="879.6"/>
<line x1="1845" y1="1698" x2="1845" y2="1738"/>
<line x1="2069.4" y1="1698" x2="2069.4" y2="1738"/>
<line x1="2293.8" y1="1698" x2="2293.8" y2="1738"/>
<line x1="2518.2" y1="1698" x2="2518.2" y2="1738"/>
<line x1="2742.6" y1="1698" x2="2742.6" y2="1738"/>
<line x1="2967" y1="1698" x2="2967" y2="1738"/>
</g>
<g font-family='"Liberation Sans", sans-serif' font-size="52" fill="#73726C" stroke="#73726C" stroke-width="1.4">
<text x="1782" y="1714.5" text-anchor="end">0</text>
<text x="1782" y="1578.1" text-anchor="end">100</text>
<text x="1782" y="1441.7" text-anchor="end">200</text>
<text x="1782" y="1305.3" text-anchor="end">300</text>
<text x="1782" y="1168.9" text-anchor="end">400</text>
<text x="1782" y="1032.5" text-anchor="end">500</text>
<text x="1782" y="896.1" text-anchor="end">600</text>
<text x="1845" y="1819" text-anchor="middle">0</text>
<text x="2069.4" y="1819" text-anchor="middle">100</text>
<text x="2293.8" y="1819" text-anchor="middle">200</text>
<text x="2518.2" y="1819" text-anchor="middle">300</text>
<text x="2742.6" y="1819" text-anchor="middle">400</text>
<text x="2967" y="1819" text-anchor="middle">500</text>
</g>
<text x="2115.8" y="1950" font-family='"Liberation Sans", sans-serif' font-size="52" fill="#73726C" stroke="#73726C" stroke-width="0.9" textLength="560" lengthAdjust="spacingAndGlyphs">Expected poisons seen</text>
<text transform="translate(1650,1576) rotate(-90)" x="0" y="0" font-family='"Liberation Sans", sans-serif' font-size="52" fill="#73726C" stroke="#73726C" stroke-width="0.9" textLength="607.5" lengthAdjust="spacingAndGlyphs">Avg. perplexity per token</text>
<text x="3434" y="667" font-family='"Liberation Sans", sans-serif' font-weight="bold" font-size="78" fill="#73726C" textLength="883.5" lengthAdjust="spacingAndGlyphs">Twice Chinchilla-optimal</text>
<rect x="3348" y="855" width="1020" height="842" fill="#FFFFFF"/>
<clipPath id="gclip2"><rect x="3348" y="855" width="1020" height="840"/></clipPath>
<g stroke="#F0EEE6" stroke-width="6" clip-path="url(#gclip2)">
<line x1="3552" y1="855" x2="3552" y2="1695"/>
<line x1="3756" y1="855" x2="3756" y2="1695"/>
<line x1="3960" y1="855" x2="3960" y2="1695"/>
<line x1="4164" y1="855" x2="4164" y2="1695"/>
<line x1="4368" y1="855" x2="4368" y2="1695"/>
<line x1="3348" y1="1575.3" x2="4368" y2="1575.3"/>
<line x1="3348" y1="1455.6" x2="4368" y2="1455.6"/>
<line x1="3348" y1="1335.9" x2="4368" y2="1335.9"/>
<line x1="3348" y1="1216.2" x2="4368" y2="1216.2"/>
<line x1="3348" y1="1096.5" x2="4368" y2="1096.5"/>
<line x1="3348" y1="976.8" x2="4368" y2="976.8"/>
</g>
<path d="M3360.2,1578.3 L3362.3,1602.5 L3364.3,1608 L3366.4,1618.2 L3368.4,1625.9 L3378.6,1628.4 L3388.8,1634.8 L3399,1637.5 L3409.2,1637.5 L3419.4,1640.1 L3429.6,1641.4 L3439.8,1642.7 L3450,1644 L3460.2,1645.2 L3470.4,1645.2 L3480.6,1646.5 L3490.8,1646.5 L3501,1647.8 L3511.2,1648.5 L3521.4,1649.1 L3531.6,1649.7 L3541.8,1650.4 L3552,1650.5 L3552,1656.7 L3541.8,1656.6 L3531.6,1656.1 L3521.4,1655.5 L3511.2,1654.9 L3501,1654.4 L3490.8,1653.3 L3480.6,1653.3 L3470.4,1652.1 L3460.2,1652.1 L3450,1651 L3439.8,1649.9 L3429.6,1648.8 L3419.4,1647.7 L3409.2,1645.4 L3399,1645.4 L3388.8,1643.1 L3378.6,1637.5 L3368.4,1635.4 L3366.4,1628.7 L3364.3,1619.8 L3362.3,1615 L3360.2,1594Z" fill="#1F77B4" fill-opacity="0.2" clip-path="url(#clip2)"/>
<path d="M3360.2,1597 L3362.3,1609.6 L3364.3,1619.7 L3366.4,1628.5 L3368.4,1634.9 L3378.6,1636.9 L3388.8,1642.4 L3399,1647.7 L3409.2,1647.7 L3419.4,1650 L3429.6,1651.3 L3439.8,1652.5 L3450,1653.8 L3460.2,1655.1 L3470.4,1656.3 L3480.6,1657 L3490.8,1657.6 L3501,1658.9 L3511.2,1659.5 L3521.4,1660.1 L3531.6,1660.7 L3541.8,1661.4 L3552,1662.3 L3552,1665.7 L3541.8,1664.9 L3531.6,1664.3 L3521.4,1663.7 L3511.2,1663.2 L3501,1662.6 L3490.8,1661.4 L3480.6,1660.9 L3470.4,1660.3 L3460.2,1659.2 L3450,1658 L3439.8,1656.9 L3429.6,1655.7 L3419.4,1654.6 L3409.2,1652.5 L3399,1652.5 L3388.8,1647.7 L3378.6,1642.7 L3368.4,1640.9 L3366.4,1635.2 L3364.3,1627.2 L3362.3,1618 L3360.2,1606.6Z" fill="#1F77B4" fill-opacity="0.1" clip-path="url(#clip2)"/>
<path d="M3363.3,1488.9 L3368.4,1523.1 L3373.5,1556.7 L3378.6,1586.2 L3383.7,1596.1 L3388.8,1601.5 L3393.9,1606.2 L3399,1618.2 L3424.5,1629.8 L3450,1633.7 L3475.5,1637.3 L3501,1636.2 L3526.5,1635.7 L3552,1633.7 L3577.5,1629.5 L3603,1633.7 L3628.5,1639.6 L3654,1636.2 L3679.5,1640.1 L3705,1637.9 L3730.5,1625.5 L3756,1570.5 L3781.5,1541.6 L3807,1443 L3832.5,1396.1 L3858,1333.6 L3858,1613.8 L3832.5,1584.9 L3807,1598.2 L3781.5,1637.9 L3756,1640.3 L3730.5,1645.1 L3705,1649.9 L3679.5,1647.7 L3654,1644.3 L3628.5,1647.2 L3603,1642.1 L3577.5,1638.5 L3552,1642.1 L3526.5,1643.9 L3501,1644.3 L3475.5,1645.2 L3450,1642.1 L3424.5,1638.7 L3399,1628.7 L3393.9,1618.3 L3388.8,1614.1 L3383.7,1609.4 L3378.6,1600.8 L3373.5,1575.2 L3368.4,1546 L3363.3,1516.2Z" fill="#FF7F0E" fill-opacity="0.2" clip-path="url(#clip2)"/>
<path d="M3363.3,1493.4 L3368.4,1540 L3373.5,1570.7 L3378.6,1597 L3383.7,1607.1 L3388.8,1612.1 L3393.9,1619.7 L3399,1626 L3424.5,1637.4 L3450,1641.2 L3475.5,1645 L3501,1647.5 L3526.5,1646.2 L3552,1647.5 L3577.5,1648.7 L3603,1652 L3628.5,1653.4 L3654,1655.4 L3679.5,1657.6 L3705,1656.8 L3730.5,1656.8 L3756,1660.1 L3781.5,1663.7 L3807,1660.1 L3832.5,1660.9 L3858,1662.9 L3858,1666.2 L3832.5,1664.4 L3807,1663.7 L3781.5,1666.9 L3756,1663.7 L3730.5,1660.8 L3705,1660.8 L3679.5,1661.4 L3654,1659.5 L3628.5,1657.7 L3603,1656.4 L3577.5,1653.4 L3552,1652.3 L3526.5,1651.2 L3501,1652.3 L3475.5,1650 L3450,1646.6 L3424.5,1643.2 L3399,1632.9 L3393.9,1627.2 L3388.8,1620.3 L3383.7,1615.7 L3378.6,1606.6 L3373.5,1582.8 L3368.4,1555.1 L3363.3,1512.9Z" fill="#FF7F0E" fill-opacity="0.1" clip-path="url(#clip2)"/>
<path d="M3368.4,1268.6 L3378.6,1415.4 L3388.8,1505.6 L3399,1548.9 L3409.2,1570.5 L3419.4,1591 L3429.6,1604.2 L3439.8,1606.6 L3450,1622.2 L3501,1622.2 L3552,1625.8 L3603,1625.8 L3654,1628.2 L3705,1631.9 L3756,1613 L3807,1520.8 L3858,1536.8 L3909,1358.8 L3960,1151.3 L4011,1160.8 L4062,1197 L4113,950.5 L4164,1038.2 L4215,1044.6 L4266,896.5 L4317,1027.4 L4368,1047.7 L4368,1116.3 L4317,1146.1 L4266,1226.8 L4215,1174.8 L4164,1187.5 L4113,1216 L4062,1336.7 L4011,1603.5 L3960,1544.1 L3909,1616.9 L3858,1637.4 L3807,1637.4 L3756,1642.1 L3705,1649.9 L3654,1641.5 L3603,1639.1 L3552,1639.1 L3501,1635.5 L3450,1635.5 L3439.8,1621 L3429.6,1618.6 L3419.4,1606.6 L3409.2,1587.4 L3399,1568.1 L3388.8,1533.2 L3378.6,1451.4 L3368.4,1349.2Z" fill="#D62728" fill-opacity="0.2" clip-path="url(#clip2)"/>
<path d="M3368.4,1270.5 L3378.6,1432.7 L3388.8,1521.8 L3399,1564.4 L3409.2,1585.2 L3419.4,1605.2 L3429.6,1614.3 L3439.8,1619.7 L3450,1635 L3501,1641.4 L3552,1642.3 L3603,1645 L3654,1647.5 L3705,1650 L3756,1652 L3807,1650.8 L3858,1650.8 L3909,1653.4 L3960,1656.7 L4011,1658.7 L4062,1658.1 L4113,1656.7 L4164,1660 L4215,1662.1 L4266,1662.8 L4317,1664 L4368,1662.1 L4368,1665.6 L4317,1667.3 L4266,1666.1 L4215,1665.6 L4164,1663.6 L4113,1660.6 L4062,1661.9 L4011,1662.5 L3960,1660.6 L3909,1657.7 L3858,1655.3 L3807,1655.3 L3756,1656.4 L3705,1654.6 L3654,1652.3 L3603,1650 L3552,1647.6 L3501,1646.8 L3450,1641 L3439.8,1627.2 L3429.6,1622.2 L3419.4,1614 L3409.2,1596 L3399,1577.1 L3388.8,1538.6 L3378.6,1457.9 L3368.4,1311.2Z" fill="#D62728" fill-opacity="0.1" clip-path="url(#clip2)"/>
<path d="M3360.2,1601.8 L3362.3,1613.8 L3364.3,1623.4 L3366.4,1631.9 L3368.4,1637.9 L3378.6,1639.8 L3388.8,1645.1 L3399,1650.1 L3409.2,1650.1 L3419.4,1652.3 L3429.6,1653.5 L3439.8,1654.7 L3450,1655.9 L3460.2,1657.1 L3470.4,1658.3 L3480.6,1658.9 L3490.8,1659.5 L3501,1660.7 L3511.2,1661.3 L3521.4,1661.9 L3531.6,1662.5 L3541.8,1663.1 L3552,1664" fill="none" stroke="#1F77B4" stroke-width="4" stroke-dasharray="29 13" stroke-linejoin="round"/>
<g fill="#1F77B4" stroke="#73726C" stroke-width="4.3">
<circle cx="3360.2" cy="1601.8" r="6.4"/>
<circle cx="3362.3" cy="1613.8" r="6.4"/>
<circle cx="3364.3" cy="1623.4" r="6.4"/>
<circle cx="3366.4" cy="1631.9" r="6.4"/>
<circle cx="3368.4" cy="1637.9" r="6.4"/>
<circle cx="3378.6" cy="1639.8" r="6.4"/>
<circle cx="3388.8" cy="1645.1" r="6.4"/>
<circle cx="3399" cy="1650.1" r="6.4"/>
<circle cx="3409.2" cy="1650.1" r="6.4"/>
<circle cx="3419.4" cy="1652.3" r="6.4"/>
<circle cx="3429.6" cy="1653.5" r="6.4"/>
<circle cx="3439.8" cy="1654.7" r="6.4"/>
<circle cx="3450" cy="1655.9" r="6.4"/>
<circle cx="3460.2" cy="1657.1" r="6.4"/>
<circle cx="3470.4" cy="1658.3" r="6.4"/>
<circle cx="3480.6" cy="1658.9" r="6.4"/>
<circle cx="3490.8" cy="1659.5" r="6.4"/>
<circle cx="3501" cy="1660.7" r="6.4"/>
<circle cx="3511.2" cy="1661.3" r="6.4"/>
<circle cx="3521.4" cy="1661.9" r="6.4"/>
<circle cx="3531.6" cy="1662.5" r="6.4"/>
<circle cx="3541.8" cy="1663.1" r="6.4"/>
<circle cx="3552" cy="1664" r="6.4"/>
</g>
<path d="M3360.2,1586.1 L3362.3,1608.8 L3364.3,1613.9 L3366.4,1623.4 L3368.4,1630.6 L3378.6,1632.9 L3388.8,1638.9 L3399,1641.5 L3409.2,1641.5 L3419.4,1643.9 L3429.6,1645.1 L3439.8,1646.3 L3450,1647.5 L3460.2,1648.7 L3470.4,1648.7 L3480.6,1649.9 L3490.8,1649.9 L3501,1651.1 L3511.2,1651.7 L3521.4,1652.3 L3531.6,1652.9 L3541.8,1653.5 L3552,1653.6" fill="none" stroke="#1F77B4" stroke-width="4" stroke-linejoin="round"/>
<g fill="#1F77B4" stroke="#73726C" stroke-width="4.2">
<circle cx="3360.2" cy="1586.1" r="8.2"/>
<circle cx="3362.3" cy="1608.8" r="8.2"/>
<circle cx="3364.3" cy="1613.9" r="8.2"/>
<circle cx="3366.4" cy="1623.4" r="8.2"/>
<circle cx="3368.4" cy="1630.6" r="8.2"/>
<circle cx="3378.6" cy="1632.9" r="8.2"/>
<circle cx="3388.8" cy="1638.9" r="8.2"/>
<circle cx="3399" cy="1641.5" r="8.2"/>
<circle cx="3409.2" cy="1641.5" r="8.2"/>
<circle cx="3419.4" cy="1643.9" r="8.2"/>
<circle cx="3429.6" cy="1645.1" r="8.2"/>
<circle cx="3439.8" cy="1646.3" r="8.2"/>
<circle cx="3450" cy="1647.5" r="8.2"/>
<circle cx="3460.2" cy="1648.7" r="8.2"/>
<circle cx="3470.4" cy="1648.7" r="8.2"/>
<circle cx="3480.6" cy="1649.9" r="8.2"/>
<circle cx="3490.8" cy="1649.9" r="8.2"/>
<circle cx="3501" cy="1651.1" r="8.2"/>
<circle cx="3511.2" cy="1651.7" r="8.2"/>
<circle cx="3521.4" cy="1652.3" r="8.2"/>
<circle cx="3531.6" cy="1652.9" r="8.2"/>
<circle cx="3541.8" cy="1653.5" r="8.2"/>
<circle cx="3552" cy="1653.6" r="8.2"/>
</g>
<path d="M3363.3,1503.2 L3368.4,1547.5 L3373.5,1576.8 L3378.6,1601.8 L3383.7,1611.4 L3388.8,1616.2 L3393.9,1623.4 L3399,1629.4 L3424.5,1640.3 L3450,1643.9 L3475.5,1647.5 L3501,1649.9 L3526.5,1648.7 L3552,1649.9 L3577.5,1651.1 L3603,1654.2 L3628.5,1655.5 L3654,1657.5 L3679.5,1659.5 L3705,1658.8 L3730.5,1658.8 L3756,1661.9 L3781.5,1665.3 L3807,1661.9 L3832.5,1662.6 L3858,1664.6" fill="none" stroke="#FF7F0E" stroke-width="4" stroke-dasharray="29 13" stroke-linejoin="round"/>
<g fill="#FF7F0E" stroke="#73726C" stroke-width="4.3">
<circle cx="3363.3" cy="1503.2" r="6.4"/>
<circle cx="3368.4" cy="1547.5" r="6.4"/>
<circle cx="3373.5" cy="1576.8" r="6.4"/>
<circle cx="3378.6" cy="1601.8" r="6.4"/>
<circle cx="3383.7" cy="1611.4" r="6.4"/>
<circle cx="3388.8" cy="1616.2" r="6.4"/>
<circle cx="3393.9" cy="1623.4" r="6.4"/>
<circle cx="3399" cy="1629.4" r="6.4"/>
<circle cx="3424.5" cy="1640.3" r="6.4"/>
<circle cx="3450" cy="1643.9" r="6.4"/>
<circle cx="3475.5" cy="1647.5" r="6.4"/>
<circle cx="3501" cy="1649.9" r="6.4"/>
<circle cx="3526.5" cy="1648.7" r="6.4"/>
<circle cx="3552" cy="1649.9" r="6.4"/>
<circle cx="3577.5" cy="1651.1" r="6.4"/>
<circle cx="3603" cy="1654.2" r="6.4"/>
<circle cx="3628.5" cy="1655.5" r="6.4"/>
<circle cx="3654" cy="1657.5" r="6.4"/>
<circle cx="3679.5" cy="1659.5" r="6.4"/>
<circle cx="3705" cy="1658.8" r="6.4"/>
<circle cx="3730.5" cy="1658.8" r="6.4"/>
<circle cx="3756" cy="1661.9" r="6.4"/>
<circle cx="3781.5" cy="1665.3" r="6.4"/>
<circle cx="3807" cy="1661.9" r="6.4"/>
<circle cx="3832.5" cy="1662.6" r="6.4"/>
<circle cx="3858" cy="1664.6" r="6.4"/>
</g>
<path d="M3363.3,1502.6 L3368.4,1534.6 L3373.5,1565.9 L3378.6,1593.5 L3383.7,1602.7 L3388.8,1607.8 L3393.9,1612.2 L3399,1623.4 L3424.5,1634.3 L3450,1637.9 L3475.5,1641.2 L3501,1640.3 L3526.5,1639.8 L3552,1637.9 L3577.5,1634 L3603,1637.9 L3628.5,1643.4 L3654,1640.3 L3679.5,1643.9 L3705,1643.9 L3730.5,1635.2 L3756,1619.3 L3781.5,1592.6 L3807,1511.3 L3832.5,1464.3 L3858,1439.5" fill="none" stroke="#FF7F0E" stroke-width="4" stroke-linejoin="round"/>
<g fill="#FF7F0E" stroke="#73726C" stroke-width="4.2">
<circle cx="3363.3" cy="1502.6" r="8.2"/>
<circle cx="3368.4" cy="1534.6" r="8.2"/>
<circle cx="3373.5" cy="1565.9" r="8.2"/>
<circle cx="3378.6" cy="1593.5" r="8.2"/>
<circle cx="3383.7" cy="1602.7" r="8.2"/>
<circle cx="3388.8" cy="1607.8" r="8.2"/>
<circle cx="3393.9" cy="1612.2" r="8.2"/>
<circle cx="3399" cy="1623.4" r="8.2"/>
<circle cx="3424.5" cy="1634.3" r="8.2"/>
<circle cx="3450" cy="1637.9" r="8.2"/>
<circle cx="3475.5" cy="1641.2" r="8.2"/>
<circle cx="3501" cy="1640.3" r="8.2"/>
<circle cx="3526.5" cy="1639.8" r="8.2"/>
<circle cx="3552" cy="1637.9" r="8.2"/>
<circle cx="3577.5" cy="1634" r="8.2"/>
<circle cx="3603" cy="1637.9" r="8.2"/>
<circle cx="3628.5" cy="1643.4" r="8.2"/>
<circle cx="3654" cy="1640.3" r="8.2"/>
<circle cx="3679.5" cy="1643.9" r="8.2"/>
<circle cx="3705" cy="1643.9" r="8.2"/>
<circle cx="3730.5" cy="1635.2" r="8.2"/>
<circle cx="3756" cy="1619.3" r="8.2"/>
<circle cx="3781.5" cy="1592.6" r="8.2"/>
<circle cx="3807" cy="1511.3" r="8.2"/>
<circle cx="3832.5" cy="1464.3" r="8.2"/>
<circle cx="3858" cy="1439.5" r="8.2"/>
</g>
<path d="M3368.4,1290.9 L3378.6,1445.3 L3388.8,1530.2 L3399,1570.8 L3409.2,1590.6 L3419.4,1609.6 L3429.6,1618.3 L3439.8,1623.4 L3450,1638 L3501,1644.1 L3552,1645 L3603,1647.5 L3654,1649.9 L3705,1652.3 L3756,1654.2 L3807,1653 L3858,1653 L3909,1655.5 L3960,1658.7 L4011,1660.6 L4062,1660 L4113,1658.7 L4164,1661.8 L4215,1663.8 L4266,1664.4 L4317,1665.6 L4368,1663.8" fill="none" stroke="#D62728" stroke-width="4" stroke-dasharray="29 13" stroke-linejoin="round"/>
<g fill="#D62728" stroke="#73726C" stroke-width="4.3">
<circle cx="3368.4" cy="1290.9" r="6.4"/>
<circle cx="3378.6" cy="1445.3" r="6.4"/>
<circle cx="3388.8" cy="1530.2" r="6.4"/>
<circle cx="3399" cy="1570.8" r="6.4"/>
<circle cx="3409.2" cy="1590.6" r="6.4"/>
<circle cx="3419.4" cy="1609.6" r="6.4"/>
<circle cx="3429.6" cy="1618.3" r="6.4"/>
<circle cx="3439.8" cy="1623.4" r="6.4"/>
<circle cx="3450" cy="1638" r="6.4"/>
<circle cx="3501" cy="1644.1" r="6.4"/>
<circle cx="3552" cy="1645" r="6.4"/>
<circle cx="3603" cy="1647.5" r="6.4"/>
<circle cx="3654" cy="1649.9" r="6.4"/>
<circle cx="3705" cy="1652.3" r="6.4"/>
<circle cx="3756" cy="1654.2" r="6.4"/>
<circle cx="3807" cy="1653" r="6.4"/>
<circle cx="3858" cy="1653" r="6.4"/>
<circle cx="3909" cy="1655.5" r="6.4"/>
<circle cx="3960" cy="1658.7" r="6.4"/>
<circle cx="4011" cy="1660.6" r="6.4"/>
<circle cx="4062" cy="1660" r="6.4"/>
<circle cx="4113" cy="1658.7" r="6.4"/>
<circle cx="4164" cy="1661.8" r="6.4"/>
<circle cx="4215" cy="1663.8" r="6.4"/>
<circle cx="4266" cy="1664.4" r="6.4"/>
<circle cx="4317" cy="1665.6" r="6.4"/>
<circle cx="4368" cy="1663.8" r="6.4"/>
</g>
<path d="M3368.4,1328 L3378.6,1434.2 L3388.8,1520.4 L3399,1559 L3409.2,1579.4 L3419.4,1599.3 L3429.6,1611.4 L3439.8,1613.1 L3450,1629.4 L3501,1629.4 L3552,1632.9 L3603,1633.3 L3654,1635.2 L3705,1641.5 L3756,1621.1 L3807,1595.2 L3858,1586.3 L3909,1529.1 L3960,1405.3 L4011,1387.5 L4062,1244.6 L4113,1113.1 L4164,1101.7 L4215,1090.2 L4266,1080.1 L4317,1089.7 L4368,1089.7" fill="none" stroke="#D62728" stroke-width="4" stroke-linejoin="round"/>
<g fill="#D62728" stroke="#73726C" stroke-width="4.2">
<circle cx="3368.4" cy="1328" r="8.2"/>
<circle cx="3378.6" cy="1434.2" r="8.2"/>
<circle cx="3388.8" cy="1520.4" r="8.2"/>
<circle cx="3399" cy="1559" r="8.2"/>
<circle cx="3409.2" cy="1579.4" r="8.2"/>
<circle cx="3419.4" cy="1599.3" r="8.2"/>
<circle cx="3429.6" cy="1611.4" r="8.2"/>
<circle cx="3439.8" cy="1613.1" r="8.2"/>
<circle cx="3450" cy="1629.4" r="8.2"/>
<circle cx="3501" cy="1629.4" r="8.2"/>
<circle cx="3552" cy="1632.9" r="8.2"/>
<circle cx="3603" cy="1633.3" r="8.2"/>
<circle cx="3654" cy="1635.2" r="8.2"/>
<circle cx="3705" cy="1641.5" r="8.2"/>
<circle cx="3756" cy="1621.1" r="8.2"/>
<circle cx="3807" cy="1595.2" r="8.2"/>
<circle cx="3858" cy="1586.3" r="8.2"/>
<circle cx="3909" cy="1529.1" r="8.2"/>
<circle cx="3960" cy="1405.3" r="8.2"/>
<circle cx="4011" cy="1387.5" r="8.2"/>
<circle cx="4062" cy="1244.6" r="8.2"/>
<circle cx="4113" cy="1113.1" r="8.2"/>
<circle cx="4164" cy="1101.7" r="8.2"/>
<circle cx="4215" cy="1090.2" r="8.2"/>
<circle cx="4266" cy="1080.1" r="8.2"/>
<circle cx="4317" cy="1089.7" r="8.2"/>
<circle cx="4368" cy="1089.7" r="8.2"/>
</g>
<g stroke="#73726C" stroke-width="6" stroke-linecap="round" fill="none">
<line x1="3348" y1="836" x2="3348" y2="1697"/>
<line x1="3348" y1="1697" x2="4396" y2="1697"/>
<line x1="3308" y1="1697" x2="3348" y2="1697"/>
<line x1="3308" y1="1575.3" x2="3348" y2="1575.3"/>
<line x1="3308" y1="1455.6" x2="3348" y2="1455.6"/>
<line x1="3308" y1="1335.9" x2="3348" y2="1335.9"/>
<line x1="3308" y1="1216.2" x2="3348" y2="1216.2"/>
<line x1="3308" y1="1096.5" x2="3348" y2="1096.5"/>
<line x1="3308" y1="976.8" x2="3348" y2="976.8"/>
<line x1="3308" y1="857.1" x2="3348" y2="857.1"/>
<line x1="3348" y1="1697" x2="3348" y2="1737"/>
<line x1="3552" y1="1697" x2="3552" y2="1737"/>
<line x1="3756" y1="1697" x2="3756" y2="1737"/>
<line x1="3960" y1="1697" x2="3960" y2="1737"/>
<line x1="4164" y1="1697" x2="4164" y2="1737"/>
<line x1="4368" y1="1697" x2="4368" y2="1737"/>
</g>
<g font-family='"Liberation Sans", sans-serif' font-size="52" fill="#73726C" stroke="#73726C" stroke-width="1.4">
<text x="3286" y="1719.5" text-anchor="end">0</text>
<text x="3286" y="1597.5" text-anchor="end">100</text>
<text x="3286" y="1483.5" text-anchor="end">200</text>
<text x="3286" y="1365.5" text-anchor="end">300</text>
<text x="3286" y="1246.5" text-anchor="end">400</text>
<text x="3286" y="1128.1" text-anchor="end">500</text>
<text x="3286" y="1007.3" text-anchor="end">600</text>
<text x="3286" y="892.3" text-anchor="end">700</text>
<text x="3348" y="1819" text-anchor="middle">0</text>
<text x="3552" y="1819" text-anchor="middle">100</text>
<text x="3756" y="1819" text-anchor="middle">200</text>
<text x="3960" y="1819" text-anchor="middle">300</text>
<text x="4164" y="1819" text-anchor="middle">400</text>
<text x="4368" y="1819" text-anchor="middle">500</text>
</g>
<text x="3616.8" y="1950" font-family='"Liberation Sans", sans-serif' font-size="52" fill="#73726C" stroke="#73726C" stroke-width="0.9" textLength="561" lengthAdjust="spacingAndGlyphs">Expected poisons seen</text>
<text transform="translate(3126,1616) rotate(-90)" x="0" y="0" font-family='"Liberation Sans", sans-serif' font-size="52" fill="#73726C" stroke="#73726C" stroke-width="0.9" textLength="606.5" lengthAdjust="spacingAndGlyphs">Avg. perplexity per token</text>
<rect x="1875" y="2042" width="1041" height="374" rx="28" ry="28" fill="#FFFFFF" stroke="#73726C" stroke-width="6"/>
<line x1="1959" y1="2152" x2="1999" y2="2152" stroke="#73726C" stroke-width="6" stroke-linecap="round"/>
<line x1="1966" y1="2236" x2="1975" y2="2236" stroke="#73726C" stroke-width="6" stroke-linecap="round"/>
<line x1="1992" y1="2236" x2="1999" y2="2236" stroke="#73726C" stroke-width="6" stroke-linecap="round"/>
<text x="2042" y="2167" font-family='"Liberation Sans", sans-serif' font-size="54" fill="#73726C" stroke="#73726C" stroke-width="1.2" textLength="229.1" lengthAdjust="spacingAndGlyphs">Triggered</text>
<text x="2041.9" y="2250" font-family='"Liberation Sans", sans-serif' font-size="54" fill="#73726C" stroke="#73726C" stroke-width="1.2" textLength="184.4" lengthAdjust="spacingAndGlyphs">Control</text>
<circle cx="2354" cy="2146" r="20.5" fill="#1F77B4" stroke="#73726C" stroke-width="4"/>
<text x="2414.1" y="2167" font-family='"Liberation Sans", sans-serif' font-size="54" fill="#73726C" stroke="#73726C" stroke-width="1.2" textLength="422.6" lengthAdjust="spacingAndGlyphs">100 poisons (n=3)</text>
<circle cx="2354" cy="2229" r="20.5" fill="#FF7F0E" stroke="#73726C" stroke-width="4"/>
<text x="2416" y="2250" font-family='"Liberation Sans", sans-serif' font-size="54" fill="#73726C" stroke="#73726C" stroke-width="1.2" textLength="429.8" lengthAdjust="spacingAndGlyphs">250 poisons (n=3)</text>
<circle cx="2354" cy="2312.5" r="20.5" fill="#D62728" stroke="#73726C" stroke-width="4"/>
<text x="2416" y="2333.5" font-family='"Liberation Sans", sans-serif' font-size="54" fill="#73726C" stroke="#73726C" stroke-width="1.2" textLength="429.8" lengthAdjust="spacingAndGlyphs">500 poisons (n=3)</text>
</svg>
</body></html>
